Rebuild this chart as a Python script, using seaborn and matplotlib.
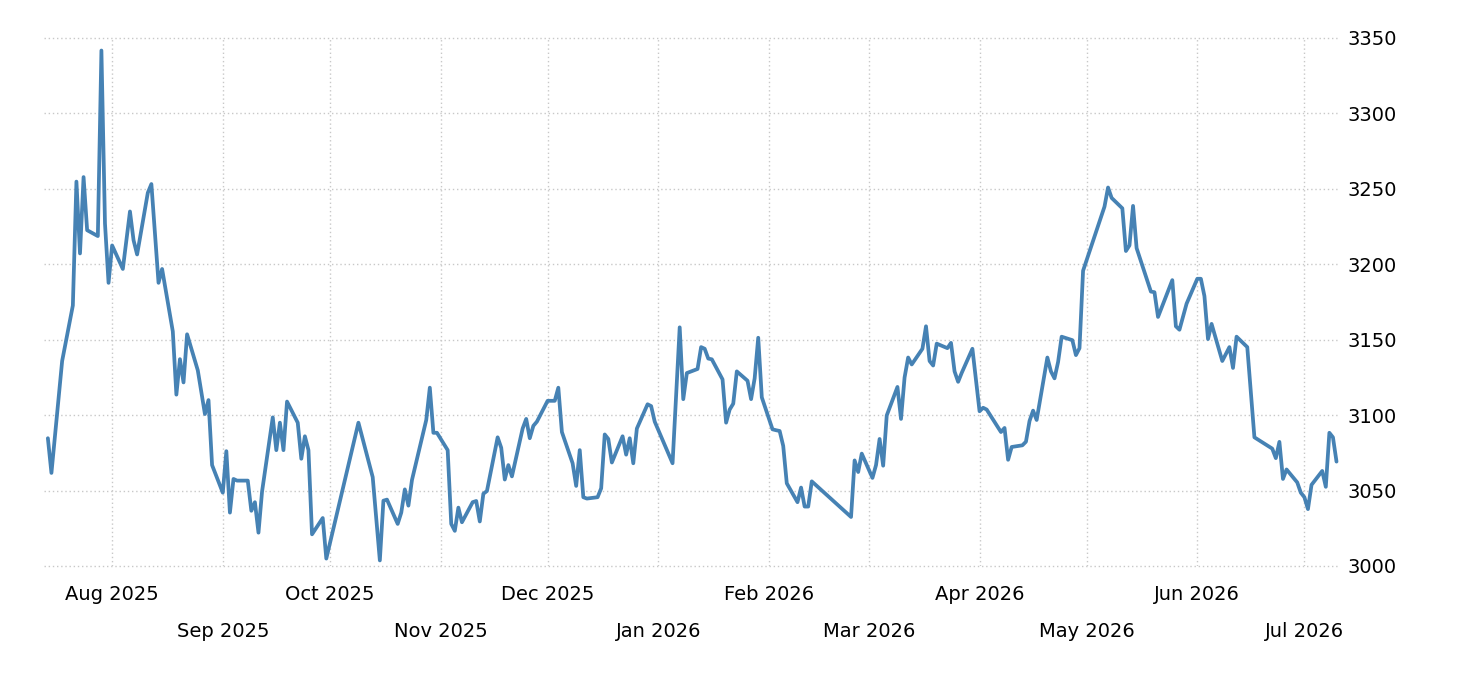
import pandas as pd
import matplotlib
matplotlib.use("Agg")
import matplotlib.pyplot as plt
import matplotlib.dates as mdates
import seaborn as sns

# daily prices
dates = [
    "2025-07-14", "2025-07-15", "2025-07-18", "2025-07-21", "2025-07-22", "2025-07-23",
    "2025-07-24", "2025-07-25", "2025-07-28", "2025-07-29", "2025-07-30", "2025-07-31",
    "2025-08-01", "2025-08-04", "2025-08-06", "2025-08-07", "2025-08-08", "2025-08-11",
    "2025-08-12", "2025-08-14", "2025-08-15", "2025-08-18", "2025-08-19", "2025-08-20",
    "2025-08-21", "2025-08-22", "2025-08-25", "2025-08-27", "2025-08-28", "2025-08-29",
    "2025-09-01", "2025-09-02", "2025-09-03", "2025-09-04", "2025-09-05", "2025-09-08",
    "2025-09-09", "2025-09-10", "2025-09-11", "2025-09-12", "2025-09-15", "2025-09-16",
    "2025-09-17", "2025-09-18", "2025-09-19", "2025-09-22", "2025-09-23", "2025-09-24",
    "2025-09-25", "2025-09-26", "2025-09-29", "2025-09-30", "2025-10-09", "2025-10-13",
    "2025-10-15", "2025-10-16", "2025-10-17", "2025-10-20", "2025-10-21", "2025-10-22",
    "2025-10-23", "2025-10-24", "2025-10-28", "2025-10-29", "2025-10-30", "2025-10-31",
    "2025-11-03", "2025-11-04", "2025-11-05", "2025-11-06", "2025-11-07", "2025-11-10",
    "2025-11-11", "2025-11-12", "2025-11-13", "2025-11-14", "2025-11-17", "2025-11-18",
    "2025-11-19", "2025-11-20", "2025-11-21", "2025-11-24", "2025-11-25", "2025-11-26",
    "2025-11-27", "2025-11-28", "2025-12-01", "2025-12-02", "2025-12-03", "2025-12-04",
    "2025-12-05", "2025-12-08", "2025-12-09", "2025-12-10", "2025-12-11", "2025-12-12",
    "2025-12-15", "2025-12-16", "2025-12-17", "2025-12-18", "2025-12-19", "2025-12-22",
    "2025-12-23", "2025-12-24", "2025-12-25", "2025-12-26", "2025-12-29", "2025-12-30",
    "2025-12-31", "2026-01-05", "2026-01-07", "2026-01-08", "2026-01-09", "2026-01-12",
    "2026-01-13", "2026-01-14", "2026-01-15", "2026-01-16", "2026-01-19", "2026-01-20",
    "2026-01-21", "2026-01-22", "2026-01-23", "2026-01-26", "2026-01-27", "2026-01-28",
    "2026-01-29", "2026-01-30", "2026-02-02", "2026-02-03", "2026-02-04", "2026-02-05",
    "2026-02-06", "2026-02-09", "2026-02-10", "2026-02-11", "2026-02-12", "2026-02-13",
    "2026-02-24", "2026-02-25", "2026-02-26", "2026-02-27", "2026-03-02", "2026-03-03",
    "2026-03-04", "2026-03-05", "2026-03-06", "2026-03-09", "2026-03-10", "2026-03-11",
    "2026-03-12", "2026-03-13", "2026-03-16", "2026-03-17", "2026-03-18", "2026-03-19",
    "2026-03-20", "2026-03-23", "2026-03-24", "2026-03-25", "2026-03-26", "2026-03-27",
    "2026-03-30", "2026-04-01", "2026-04-02", "2026-04-03", "2026-04-07", "2026-04-08",
    "2026-04-09", "2026-04-10", "2026-04-13", "2026-04-14", "2026-04-15", "2026-04-16",
    "2026-04-17", "2026-04-20", "2026-04-21", "2026-04-22", "2026-04-23", "2026-04-24",
    "2026-04-27", "2026-04-28", "2026-04-29", "2026-04-30", "2026-05-06", "2026-05-07",
    "2026-05-08", "2026-05-11", "2026-05-12", "2026-05-13", "2026-05-14", "2026-05-15",
    "2026-05-19", "2026-05-20", "2026-05-21", "2026-05-25", "2026-05-26", "2026-05-27",
    "2026-05-29", "2026-06-01", "2026-06-02", "2026-06-03", "2026-06-04", "2026-06-05",
    "2026-06-08", "2026-06-10", "2026-06-11", "2026-06-12", "2026-06-15", "2026-06-17",
    "2026-06-22", "2026-06-23", "2026-06-24", "2026-06-25", "2026-06-26", "2026-06-29",
    "2026-06-30", "2026-07-01", "2026-07-02", "2026-07-03", "2026-07-06", "2026-07-07",
    "2026-07-08", "2026-07-09", "2026-07-10",
]
prices = [
    3084.7, 3061.7, 3135.9, 3172.7, 3254.8, 3207.2,
    3257.8, 3222.6, 3218.7, 3341.7, 3227.0, 3187.7,
    3212.5, 3196.9, 3235.0, 3216.0, 3206.5, 3247.4,
    3253.2, 3187.7, 3196.9, 3155.5, 3113.6, 3137.1,
    3121.7, 3153.6, 3129.7, 3100.7, 3110.0, 3066.9,
    3048.6, 3076.1, 3035.4, 3057.7, 3056.6, 3056.6,
    3036.6, 3042.3, 3022.1, 3049.3, 3098.5, 3076.8,
    3095.0, 3076.8, 3109.0, 3095.0, 3071.1, 3086.0,
    3076.8, 3021.0, 3031.8, 3004.9, 3095.0, 3058.9,
    3003.7, 3043.3, 3044.0, 3027.9, 3035.4, 3050.8,
    3040.0, 3057.0, 3096.8, 3118.2, 3088.3, 3088.3,
    3076.8, 3027.9, 3023.3, 3038.7, 3029.0, 3042.3,
    3043.1, 3029.5, 3047.9, 3049.7, 3085.3, 3078.4,
    3057.3, 3066.9, 3059.4, 3091.1, 3097.5, 3084.7,
    3092.9, 3095.7, 3109.5, 3109.5, 3109.5, 3118.2,
    3088.8, 3068.1, 3053.1, 3076.8, 3045.6, 3044.7,
    3045.6, 3051.5, 3087.2, 3084.2, 3068.6, 3086.0,
    3073.8, 3084.7, 3068.1, 3091.1, 3107.2, 3106.0,
    3095.7, 3068.1, 3158.2, 3110.6, 3127.9, 3130.6,
    3145.1, 3144.0, 3137.5, 3137.0, 3123.7, 3095.0,
    3103.7, 3107.6, 3129.0, 3122.8, 3110.6, 3124.4,
    3151.3, 3111.8, 3090.6, 3090.0, 3089.5, 3079.6,
    3054.8, 3042.3, 3052.0, 3039.4, 3039.4, 3056.1,
    3032.5, 3070.0, 3062.3, 3074.5, 3058.4, 3066.9,
    3084.2, 3066.5, 3099.8, 3118.7, 3097.5, 3125.0,
    3138.2, 3133.6, 3144.0, 3158.9, 3135.9, 3132.9,
    3147.4, 3144.4, 3147.9, 3129.0, 3122.1, 3128.0,
    3144.0, 3102.6, 3104.9, 3103.7, 3088.8, 3091.5,
    3070.4, 3078.9, 3080.0, 3082.4, 3096.1, 3103.0,
    3096.8, 3138.2, 3129.0, 3124.4, 3135.2, 3152.0,
    3149.7, 3139.8, 3144.4, 3195.7, 3238.2, 3250.9,
    3244.0, 3237.1, 3208.8, 3212.5, 3238.7, 3210.7,
    3181.9, 3181.5, 3165.1, 3189.5, 3158.9, 3156.6,
    3173.9, 3190.4, 3190.4, 3178.9, 3150.4, 3160.5,
    3135.9, 3145.1, 3131.3, 3152.0, 3145.1, 3085.3,
    3077.8, 3071.5, 3082.3, 3057.7, 3064.0, 3055.4,
    3048.6, 3045.6, 3037.7, 3053.8, 3063.0, 3052.5,
    3088.3, 3085.3, 3069.2,
]
y_ticks = [3000, 3050, 3100, 3150, 3200, 3250, 3300, 3350]

df = pd.DataFrame({"date": pd.to_datetime(dates), "price": prices})

sns.set_style("white")
plt.rcParams["font.family"] = ["DejaVu Sans"]

W, H = 1460, 680
fig = plt.figure(figsize=(W / 100, H / 100), dpi=100)
ax = fig.add_axes([44 / W, 1 - 566 / H, (1338 - 44) / W, (566 - 38) / H])

sns.lineplot(data=df, x="date", y="price", ax=ax, color="#4682b4",
             linewidth=2.7, clip_on=False)

ax.set_xlim(pd.Timestamp("2025-07-12 22:00"), pd.Timestamp("2026-07-10 10:00"))
ax.set_ylim(3000, 3350)
ax.set_xlabel("")
ax.set_ylabel("")

# months alternate between two label rows
ax.xaxis.set_major_locator(mdates.MonthLocator(bymonth=[2, 4, 6, 8, 10, 12]))
ax.xaxis.set_minor_locator(mdates.MonthLocator(bymonth=[1, 3, 5, 7, 9, 11]))
ax.xaxis.set_major_formatter(mdates.DateFormatter("%b %Y"))
ax.xaxis.set_minor_formatter(mdates.DateFormatter("%b %Y"))
ax.tick_params(axis="x", which="major", length=8, width=1, color="#cccccc",
               pad=6, labelsize=14, labelcolor="black")
ax.tick_params(axis="x", which="minor", length=8, width=1, color="#cccccc",
               pad=32, labelsize=14, labelcolor="black")

ax.set_yticks(y_ticks)
ax.yaxis.tick_right()
ax.tick_params(axis="y", length=0, pad=7, labelsize=14, labelcolor="black")

grid_kw = dict(color="#c8c8c8", linestyle=(0, (1, 2)), linewidth=1)
ax.grid(axis="y", which="major", **grid_kw)
ax.grid(axis="x", which="both", **grid_kw)
ax.set_axisbelow(True)
# keep the 3000 and 3350 dotted lines visible on the axes edge
for tick in ax.yaxis.get_major_ticks():
    tick.gridline.set_clip_on(False)

for s in ax.spines.values():
    s.set_visible(False)

fig.savefig("out.png", dpi=100, facecolor="white")
